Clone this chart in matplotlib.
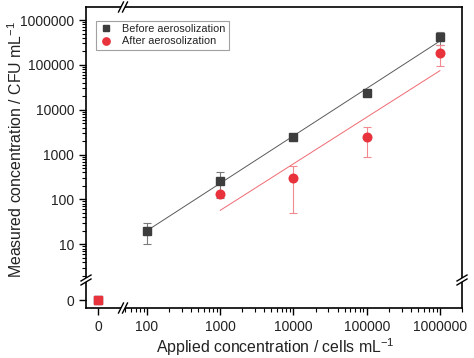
import numpy as np
import matplotlib
matplotlib.use("Agg")
import matplotlib.pyplot as plt
from matplotlib.lines import Line2D
from matplotlib.patches import Polygon
from matplotlib.ticker import LogLocator, NullFormatter

plt.rcParams['font.family'] = ['Liberation Sans', 'DejaVu Sans']
plt.rcParams['mathtext.default'] = 'regular'

# applied concentration (cells/mL)
x_conc = [100, 1000, 10000, 100000, 1000000]
# before aerosolization (CFU/mL)
before = [20, 260, 2500, 23000, 410000]
before_err = [10, 150, 300, 3000, 130000]
# after aerosolization (no data at 100)
x_after = [1000, 10000, 100000, 1000000]
after = [130, 300, 2500, 185000]
after_err = [0, 250, 1600, 90000]

x_ticks = [100, 1000, 10000, 100000, 1000000]
y_ticks = [10, 100, 1000, 10000, 100000, 1000000]

dark = '#3d3d3d'
red = '#e8333c'
txt = '#222222'

W, H = 474, 358
fig = plt.figure(figsize=(W / 100, H / 100), dpi=100)
gs = fig.add_gridspec(2, 2, width_ratios=[37, 339], height_ratios=[273, 28],
                      left=86 / W, right=462 / W, top=1 - 7 / H, bottom=1 - 308 / H,
                      wspace=0, hspace=0)
ax_tl = fig.add_subplot(gs[0, 0])
ax_tr = fig.add_subplot(gs[0, 1])
ax_bl = fig.add_subplot(gs[1, 0])
ax_br = fig.add_subplot(gs[1, 1])

xlog = (47, 2.0e6)
ylog = (1.6, 1.95e6)
xlin = (-12, 25)
ylin = (-8, 20)

for ax in (ax_tl, ax_tr):
    ax.set_yscale('log')
    ax.set_ylim(*ylog)
for ax in (ax_tr, ax_br):
    ax.set_xscale('log')
    ax.set_xlim(*xlog)
for ax in (ax_tl, ax_bl):
    ax.set_xlim(*xlin)
for ax in (ax_bl, ax_br):
    ax.set_ylim(*ylin)

for ax in (ax_tl, ax_tr, ax_bl, ax_br):
    for s in ax.spines.values():
        s.set_visible(False)
        s.set_linewidth(1.2)
    ax.tick_params(which='both', left=False, bottom=False, labelleft=False, labelbottom=False,
                   labelcolor=txt)
    ax.patch.set_alpha(0)

ax_tl.spines['left'].set_visible(True)
ax_tl.spines['top'].set_visible(True)
ax_tr.spines['top'].set_visible(True)
ax_tr.spines['right'].set_visible(True)
ax_bl.spines['left'].set_visible(True)
ax_bl.spines['bottom'].set_visible(True)
ax_br.spines['bottom'].set_visible(True)
ax_br.spines['right'].set_visible(True)

# y ticks (log part)
ax_tl.set_yticks(y_ticks, labels=[str(v) for v in y_ticks])
ax_tl.yaxis.set_minor_locator(LogLocator(base=10, subs=np.arange(2, 10)))
ax_tl.yaxis.set_minor_formatter(NullFormatter())
ax_tl.tick_params(which='both', left=True, labelleft=True, labelsize=10)
ax_tl.tick_params(which='major', length=5, width=1)
ax_tl.tick_params(which='minor', length=3, width=0.8)
ax_tl.set_xticks([])

# x ticks (log part)
ax_br.set_xticks(x_ticks, labels=[str(v) for v in x_ticks])
ax_br.xaxis.set_minor_locator(LogLocator(base=10, subs=np.arange(2, 10)))
ax_br.xaxis.set_minor_formatter(NullFormatter())
ax_br.tick_params(which='both', bottom=True, labelbottom=True, labelsize=10)
ax_br.tick_params(which='major', length=5, width=1)
ax_br.tick_params(which='minor', length=3, width=0.8)
ax_br.set_yticks([])

# zero ticks
ax_bl.set_xticks([0], labels=['0'])
ax_bl.set_yticks([0], labels=['0'])
ax_bl.tick_params(left=True, bottom=True, labelleft=True, labelbottom=True,
                  labelsize=10, length=5, width=1)
ax_tr.set_xticks([], minor=False)
ax_tr.set_yticks([], minor=False)
ax_tr.tick_params(which='both', left=False, bottom=False, labelleft=False, labelbottom=False)

# data
ax_tr.errorbar(x_conc, before, yerr=before_err, fmt='none', ecolor='#7a7a7a',
               elinewidth=0.8, capsize=3, capthick=0.8, zorder=2)
ax_tr.errorbar(x_after, after, yerr=after_err, fmt='none', ecolor='#f08a90',
               elinewidth=0.8, capsize=3, capthick=0.8, zorder=2)

# fitted lines in log-log space
pb = np.polyfit(np.log10(x_conc), np.log10(before), 1)
pa = np.polyfit(np.log10(x_after), np.log10(after), 1)
xb = np.array([x_conc[0], x_conc[-1]])
xa = np.array([x_after[0], x_after[-1]])
ax_tr.plot(xb, 10 ** np.polyval(pb, np.log10(xb)), color='#5a5a5a', lw=0.7, zorder=3)
ax_tr.plot(xa, 10 ** np.polyval(pa, np.log10(xa)), color='#ef6a71', lw=0.7, zorder=3)

ax_tr.plot(x_conc, before, 's', color=dark, ms=5.8, zorder=4, clip_on=False,
           label='Before aerosolization')
ax_tr.plot(x_after, after, 'o', color=red, ms=6.2, zorder=4, clip_on=False,
           label='After aerosolization')

# zero point
ax_bl.plot([0], [0], 's', color=dark, ms=5.8, clip_on=False)
ax_bl.plot([0], [0], 's', color=red, ms=6.2, clip_on=False)

# legend
h, l = ax_tr.get_legend_handles_labels()
leg = fig.legend(h, l, loc='upper left', bbox_to_anchor=(96 / W, 1 - 21 / H),
                 borderaxespad=0, fontsize=7.8, frameon=True, fancybox=False,
                 edgecolor='#8a8a8a', handlelength=1.2, handletextpad=0.9,
                 borderpad=0.3, labelspacing=0.2, markerscale=0.85)
leg.get_frame().set_linewidth(0.8)
for t in leg.get_texts():
    t.set_color(txt)

# axis labels
fig.text(275 / W, 1 - 353 / H, 'Applied concentration / cells mL$^{-1}$',
         ha='center', va='baseline', fontsize=11.4, color=txt)
fig.text(16 / W, 1 - 149 / H, 'Measured concentration / CFU mL$^{-1}$',
         ha='center', va='center', rotation=90, fontsize=11.4, color=txt)

# break marks
xbreak = ax_tr.get_position().x0
ybreak = ax_tr.get_position().y0
x0f, x1f = ax_tl.get_position().x0, ax_tr.get_position().x1
y0f, y1f = ax_bl.get_position().y0, ax_tl.get_position().y1


def brk(cx, cy, dx, dy, gap_x, gap_y):
    # two parallel slashes centred on (cx, cy) with the spine blanked between them
    l1 = [(cx - gap_x - dx, cy - gap_y - dy), (cx - gap_x + dx, cy - gap_y + dy)]
    l2 = [(cx + gap_x - dx, cy + gap_y - dy), (cx + gap_x + dx, cy + gap_y + dy)]
    poly = Polygon([l1[0], l1[1], l2[1], l2[0]], closed=True, transform=fig.transFigure,
                   facecolor='white', edgecolor='none', zorder=10)
    fig.add_artist(poly)
    for ln in (l1, l2):
        fig.add_artist(Line2D([ln[0][0], ln[1][0]], [ln[0][1], ln[1][1]],
                              transform=fig.transFigure, color='black', lw=1, zorder=11))


px, py = 1 / W, 1 / H
# horizontal spines: steep slashes
for yy in (y0f, y1f):
    brk(xbreak, yy, 2.5 * px, 5 * py, 2 * px, 0)
# vertical spines: shallow slashes
for xx in (x0f, x1f):
    brk(xx, ybreak, 5 * px, 3 * py, 0, 2 * py)

fig.savefig('out.png', dpi=100)
